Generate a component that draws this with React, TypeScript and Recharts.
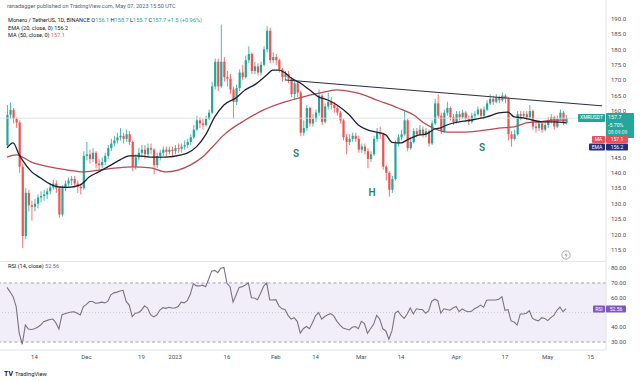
import React from 'react';
import {
  ComposedChart,
  Bar,
  Line,
  XAxis,
  YAxis,
  ReferenceLine,
  ReferenceArea,
  ReferenceDot,
} from 'recharts';

// ---------- data (daily XMR/USDT candles, Nov 5 2022 -> May 7 2023) ----------
// Crypto daily candles open at the previous close, so opens follow the closes.
const firstOpen = 149.0;

const closes = [
  158.8, 160.4, 157.5, 156.3, 142, 119.5, 133.5, 129.5, 129, 130,
  132, 132.5, 133, 134, 135.3, 136.5, 135, 126.5, 135, 136.5,
  137.5, 138, 136.5, 135.5, 135, 145.5, 146, 144.5, 146.5, 143,
  142.5, 143.5, 145.5, 148, 149.5, 150.5, 151.5, 152, 151, 152.5,
  150, 142, 145, 146.5, 147.5, 146, 148, 147.5, 142.5, 145.5,
  146.5, 147.5, 146.8, 147.5, 147, 148, 147.8, 148.5, 149, 150,
  151.5, 154, 157, 156, 155.5, 157.5, 159.5, 168, 176, 168,
  176, 171, 170.5, 167, 163, 167.5, 172.5, 171, 176.5, 178.5,
  173, 174.5, 172.5, 175, 180, 186, 176.5, 177.5, 176.5, 173.5,
  171, 172, 170.5, 165.5, 169, 166, 153, 154.5, 161, 156,
  157.5, 159.5, 165, 156.5, 161.5, 163, 162, 161, 159.5, 157,
  151.5, 150, 151, 152, 151, 147.5, 148.5, 147, 144.5, 146,
  151, 153, 152.5, 142, 140, 134.5, 138, 149.5, 151.5, 152.5,
  157, 148, 150, 153.5, 152.5, 154, 152.5, 153.5, 149.5, 156,
  162.5, 158.5, 153.5, 159.5, 161, 158, 156.5, 159, 158, 159.5,
  157.5, 156.5, 158.5, 159, 160.5, 158.5, 160.5, 162.5, 164, 163,
  164.5, 163.5, 165, 164, 152.5, 151, 152.5, 159, 158.5, 159,
  158, 160, 155, 154.5, 156, 154, 155.5, 157, 158, 155,
  157.5, 159.5, 156.1, 157.7,
];

const highs = [
  162, 162.8, 161, 158, 157, 143, 135, 134.5, 131, 131.5,
  133, 134, 134.5, 135, 136.5, 137.8, 137.5, 135.5, 136, 137.5,
  138.5, 139, 139, 137.5, 136.5, 147, 150, 147.5, 148, 147,
  144.5, 145, 146.5, 149, 151, 152, 153, 154.5, 153, 154,
  153.5, 150.5, 146, 148, 149, 149, 149.5, 149.5, 148, 146.5,
  147.5, 148.5, 148.5, 148.5, 148.5, 149, 149.5, 149.5, 150.5, 151,
  152.5, 155.5, 158.5, 158, 157.5, 158.5, 160.5, 169.5, 177, 177,
  188, 177.5, 173, 172, 168, 168.5, 173.5, 175, 178, 181,
  179, 176, 175.5, 176, 181, 187.5, 187, 179, 178.5, 177,
  174, 173, 173, 171, 170, 169.5, 166.5, 157, 162, 161.5,
  159, 160.5, 167, 165.5, 162.5, 166, 164.5, 163, 162, 160,
  157.5, 152.5, 152.5, 153, 153, 152, 149.5, 149.5, 148, 147,
  152, 154.5, 155, 153, 142.5, 140.5, 139, 150.5, 152.5, 154,
  160, 157.5, 151.5, 154.5, 154.5, 155.5, 155, 154.5, 154, 157,
  164, 165.5, 159.5, 160.5, 163, 161.5, 159, 160, 160, 160.5,
  160, 158.5, 159.5, 160, 161.5, 161, 161.5, 163.5, 165.5, 165,
  165.5, 165, 166, 165.5, 164.5, 153.5, 154, 160, 160, 160,
  160, 162, 160.5, 156.5, 157, 156.5, 156.5, 158, 159, 158.5,
  158.5, 160.5, 160, 158.7,
];

const lows = [
  148.5, 157.5, 156, 154.5, 140, 115.6, 118.5, 127.5, 124.5, 127.5,
  128.5, 130.5, 131, 131.5, 133, 134.5, 133.5, 125.5, 125.8, 134,
  135.5, 136, 135.5, 133.5, 133, 134.5, 144, 143, 143.5, 141.5,
  141, 141.5, 142.5, 144.5, 147, 148.5, 149.5, 150.5, 149.5, 150,
  149, 140.5, 141, 144, 145, 144.5, 145, 146, 139.5, 141.5,
  144, 145.5, 145, 146, 145.5, 146, 146.5, 146.5, 147.5, 148,
  149, 151, 153.5, 154.5, 154, 155, 157, 159, 167, 166.5,
  167.5, 169.5, 168, 165.5, 157.5, 162, 166.5, 170, 170.5, 175.5,
  172, 172, 171.5, 171.5, 174.5, 179, 175.5, 175.5, 175, 172.5,
  169.5, 170, 169, 164.5, 164, 164.5, 152, 152, 153.5, 155,
  155, 156.5, 158.5, 155.5, 156, 160.5, 160.5, 159.5, 158.5, 156,
  150.5, 146, 149, 150, 150, 146.5, 146.5, 146, 141.5, 143.5,
  145.5, 150, 151, 141, 137.5, 132.3, 133.5, 137.5, 148.5, 150.5,
  152, 147, 147.5, 149.5, 151.5, 152, 151.5, 151.5, 148.5, 149,
  155.5, 157.5, 152.5, 153, 158.5, 157, 155.5, 156, 157, 157.5,
  156.5, 155.5, 156, 157.5, 158.5, 157.5, 158, 160, 162, 162,
  162.5, 162.5, 163, 162.5, 150.5, 148.5, 150.5, 152, 157, 157.5,
  157, 157.5, 154, 153, 153.5, 153, 153.5, 154.5, 156, 154,
  154.5, 157, 155.5, 155.7,
];

const rsiValues = [
  67, 64, 60.7, 54, 36, 28.5, 41.5, 38.8, 38.5, 39,
  40, 41.5, 43.8, 44.5, 45.3, 45.6, 43, 38.8, 48.5, 49.2,
  49.8, 50.3, 50.5, 49.5, 48.3, 54, 55.5, 57.4, 57.4, 56.3,
  56.5, 57, 56.5, 57.5, 62, 63.3, 63.8, 64.5, 65, 57.5,
  55, 47.2, 49.5, 49.8, 51.5, 54.5, 53, 48.5, 47, 48.3,
  51.5, 53.3, 52.8, 53.5, 53, 53, 54, 57, 56.5, 58,
  62.3, 69.5, 68, 68, 68.5, 67.5, 72.5, 78, 78.5, 77,
  80, 80.5, 69.8, 67.5, 57, 62, 67, 67.5, 68.6, 70,
  60, 59.8, 58.7, 63, 67.8, 70, 58.5, 58.5, 58.7, 54.5,
  52.5, 52, 48, 45.5, 46.5, 44, 36, 39, 40.5, 39,
  43, 47.7, 50, 45.5, 47.3, 48.5, 49.2, 47.5, 44, 41.5,
  39.5, 38.8, 38.2, 40, 40.5, 39, 44, 42.5, 36, 39,
  42, 48, 45.5, 39, 37.5, 32, 37.5, 49.4, 51, 48,
  46, 49, 53, 49, 52.5, 52, 52, 49.5, 51, 57.5,
  59, 58, 49.5, 52.5, 52, 51.5, 53, 54, 50.5, 52.4,
  51.2, 50.5, 50.8, 52.5, 53.6, 55, 53.6, 58.3, 58.5, 58.5,
  58.5, 59, 60.7, 51.5, 52, 44.3, 43.5, 41.5, 49, 49,
  49.5, 51.2, 46, 45, 44.3, 46.5, 46, 44.5, 46.5, 48,
  51.5, 53.6, 50.5, 52.56,
];

// EMA(20) and MA(50) at candle indexes
const emaPoints: [number, number][] = [
  [0, 148.1], [2, 149.7], [4, 145.8], [5, 144.2], [8, 140.4], [11, 138.3], [14, 136.4],
  [17, 135.4], [20, 135.3], [24, 136.1], [27, 138.7], [30, 140.3], [34, 142.5], [37, 144.2],
  [40, 145.5], [43, 145.5], [47, 145.1], [52, 145.1], [57, 145.8], [59, 146.4], [62, 148.4],
  [65, 152.3], [68, 158.1], [71, 162], [75, 164.3], [78, 166.9], [81, 168.5], [85, 171.7],
  [87, 173.3], [89, 173.3], [91, 172.4], [93, 170.7], [96, 169.1], [99, 166.9], [102, 164.6],
  [105, 163.6], [108, 162], [112, 158.8], [115, 155.5], [118, 153.9], [121, 153.2], [124, 152.3],
  [126, 149.9], [129, 149.7], [131, 150.7], [133, 151.6], [135, 152.3], [137, 152.5], [140, 154.2],
  [142, 154.6], [144, 155.5], [148, 156.5], [152, 157.1], [157, 158.1], [161, 159.4], [164, 159.7],
  [166, 158.1], [169, 157.8], [172, 157.1], [175, 156.5], [179, 156.5], [183, 156.2],
];

const smaPoints: [number, number][] = [
  [0, 145.1], [3, 145.8], [8, 143.5], [14, 141.9], [20, 140.9], [25, 140.3], [30, 140.9],
  [36, 141.6], [41, 141.9], [47, 141.6], [52, 140.3], [56, 140.9], [60, 142.5], [64, 145.1],
  [67, 148.1], [71, 152.3], [78, 157.1], [84, 160.4], [91, 163], [97, 164.6], [104, 166.2],
  [108, 166.9], [113, 166.2], [117, 165.2], [121, 163.6], [128, 161], [133, 158.8], [137, 155.8],
  [141, 153.9], [144, 153.2], [150, 153.2], [157, 153.9], [161, 154.5], [166, 154.9], [170, 156.2],
  [174, 156.5], [179, 157.1], [183, 157.1],
];

// 150.0 and 155.0 are hidden behind the price badges in the reference
const priceTicks = [115, 120, 125, 130, 135, 140, 145, 160, 165, 170, 175, 180, 185, 190];
const rsiTicks = [30, 40, 60, 70, 80];
const timeTicks = [9, 26, 44, 55, 72, 88, 101, 116, 129, 147, 163, 177, 191];
const timeLabels = ['14', 'Dec', '19', '2023', '16', 'Feb', '14', 'Mar', '14', 'Apr', '17', 'May', '15'];

const lastPrice = 157.7;
const neckline = [
  { x: 91, y: 170.1 },
  { x: 194.8, y: 161.7 },
];
const patternLabels = [
  { x: 94.6, y: 146.4, text: 'S' },
  { x: 119.5, y: 133.5, text: 'H' },
  { x: 155.5, y: 148.1, text: 'S' },
];

// ---------- styling ----------
const UP = '#26a69a';
const DOWN = '#ef5350';
const FONT = 'Roboto, "Noto Sans", sans-serif';
const X_DOMAIN: [number, number] = [-2.29, 196.07];

const emaMap = new Map(emaPoints);
const smaMap = new Map(smaPoints);

const rows = closes.map((c, i) => ({
  i,
  open: i === 0 ? firstOpen : closes[i - 1],
  close: c,
  high: highs[i],
  low: lows[i],
  range: [lows[i], highs[i]],
  rsi: rsiValues[i],
  ema: emaMap.has(i) ? emaMap.get(i) : null,
  sma: smaMap.has(i) ? smaMap.get(i) : null,
}));

const Candle = (props: any) => {
  const { x, y, width, height, payload } = props;
  if (!payload || x == null || y == null) return null;
  const { open, close, high, low } = payload;
  const top = Math.min(y, y + height);
  const bot = Math.max(y, y + height);
  const ppu = high !== low ? (bot - top) / (high - low) : 0;
  const yOf = (v: number) => top + (high - v) * ppu;
  const cx = x + width / 2;
  const color = close >= open ? UP : DOWN;
  const bt = yOf(Math.max(open, close));
  const bb = yOf(Math.min(open, close));
  return (
    <g>
      <line x1={cx} x2={cx} y1={top} y2={bot} stroke={color} strokeWidth={0.8} />
      <rect x={cx - 1.1} y={bt} width={2.2} height={Math.max(0.8, bb - bt)} fill={color} />
    </g>
  );
};

const axisTick = { fontSize: 6, fill: '#4a4d57', fontFamily: FONT };

const Badge = ({ x, y, w, h, fill, lines }: { x: number; y: number; w: number; h: number; fill: string; lines: string[] }) => (
  <g>
    <rect x={x} y={y} width={w} height={h} rx={1} fill={fill} />
    {lines.map((t, k) => (
      <text key={k} x={x + w / 2} y={y + 5.2 + k * 7.5} fontSize={5} fill="#fff" textAnchor="middle" fontFamily={FONT}>
        {t}
      </text>
    ))}
  </g>
);

export default function App() {
  return (
    <div style={{ position: 'fixed', left: 0, top: 0, width: 640, height: 381, background: '#fff', overflow: 'hidden' }}>
      <div style={{ position: 'absolute', left: 0, top: 0 }}>
        <ComposedChart width={640} height={258} data={rows} margin={{ top: 0, right: 0, bottom: 0, left: 0 }}>
          <XAxis type="number" dataKey="i" domain={X_DOMAIN} hide allowDataOverflow />
          <YAxis
            orientation="right"
            type="number"
            domain={[112.4, 196]}
            ticks={priceTicks}
            interval={0}
            width={34}
            tickSize={0}
            tickMargin={5}
            tickLine={false}
            axisLine={{ stroke: '#e0e3eb' }}
            tick={axisTick}
            tickFormatter={(v: number) => v.toFixed(1)}
            allowDataOverflow
          />
          <ReferenceLine y={lastPrice} stroke="#dcdcdc" strokeWidth={0.8} />
          <Bar dataKey="range" barSize={2} shape={(p: any) => <Candle {...p} />} isAnimationActive={false} />
          <Line dataKey="sma" type="monotone" stroke="#b84a55" strokeWidth={1.3} dot={false} activeDot={false} connectNulls isAnimationActive={false} />
          <Line dataKey="ema" type="monotone" stroke="#1c2033" strokeWidth={1.3} dot={false} activeDot={false} connectNulls isAnimationActive={false} />
          <ReferenceLine segment={neckline} stroke="#2a2e45" strokeWidth={1} />
          {patternLabels.map((l, k) => (
            <ReferenceDot
              key={k}
              x={l.x}
              y={l.y}
              r={0}
              fill="none"
              stroke="none"
              label={{ value: l.text, position: 'center', fill: '#2e7d6b', fontSize: 10, fontWeight: 600, fontFamily: FONT }}
            />
          ))}
        </ComposedChart>
      </div>
      <div style={{ position: 'absolute', left: 0, top: 258 }}>
        <ComposedChart width={640} height={110} data={rows} margin={{ top: 0, right: 0, bottom: 0, left: 0 }}>
          <XAxis
            type="number"
            dataKey="i"
            domain={X_DOMAIN}
            ticks={timeTicks}
            interval={0}
            height={18}
            tickSize={0}
            tickMargin={5}
            tickLine={false}
            axisLine={{ stroke: '#e0e3eb' }}
            tick={axisTick}
            tickFormatter={(v: number) => timeLabels[timeTicks.indexOf(v)] ?? ''}
            allowDataOverflow
          />
          <YAxis
            orientation="right"
            type="number"
            domain={[24.6, 86.9]}
            ticks={rsiTicks}
            interval={0}
            width={34}
            tickSize={0}
            tickMargin={5}
            tickLine={false}
            axisLine={{ stroke: '#e0e3eb' }}
            tick={axisTick}
            tickFormatter={(v: number) => v.toFixed(2)}
            allowDataOverflow
          />
          <ReferenceArea y1={30} y2={70} fill="#7e57c2" fillOpacity={0.1} stroke="none" />
          <ReferenceLine y={70} stroke="#a3a6ae" strokeDasharray="3 2.5" />
          <ReferenceLine y={50} stroke="#c9cbd1" strokeDasharray="1 2" />
          <ReferenceLine y={30} stroke="#a3a6ae" strokeDasharray="3 2.5" />
          <Line dataKey="rsi" type="linear" stroke="#7b7186" strokeWidth={1.1} dot={false} activeDot={false} isAnimationActive={false} />
        </ComposedChart>
      </div>
      <svg width={640} height={381} style={{ position: 'absolute', left: 0, top: 0, pointerEvents: 'none' }}>
        <line x1={0} x2={606} y1={261.5} y2={261.5} stroke="#e6e6ec" strokeWidth={1} />
        <text x={7} y={8} fontSize={5.6} fill="#5d606b" fontFamily={FONT}>
          ranadagger published on TradingView.com, May 07, 2023 15:50 UTC
        </text>
        <text x={8} y={21.5} fontSize={5.6} fill="#131722" fontFamily={FONT}>
          Monero / TetherUS, 1D, BINANCE{'  '}
          <tspan>O</tspan><tspan fill={UP}>156.1 </tspan>
          <tspan>H</tspan><tspan fill={UP}>158.7 </tspan>
          <tspan>L</tspan><tspan fill={UP}>155.7 </tspan>
          <tspan>C</tspan><tspan fill={UP}>157.7 +1.5 (+0.96%)</tspan>
        </text>
        <text x={8} y={29.5} fontSize={5.6} fill="#131722" fontFamily={FONT}>
          EMA (20, close, 0) <tspan fill="#1c2033">156.2</tspan>
        </text>
        <text x={8} y={36.5} fontSize={5.6} fill="#131722" fontFamily={FONT}>
          MA (50, close, 0) <tspan fill="#e0606d">157.1</tspan>
        </text>
        <text x={8} y={268} fontSize={5.6} fill="#131722" fontFamily={FONT}>
          RSI (14, close) <tspan fill="#7e57c2">52.56</tspan>
        </text>

        <Badge x={578} y={114} w={27} h={8} fill={UP} lines={['XMRUSDT']} />
        <rect x={606} y={113} width={28} height={25} rx={1} fill={UP} />
        <text x={608} y={119} fontSize={5.4} fill="#fff" fontFamily={FONT}>157.7</text>
        <text x={608} y={126.5} fontSize={5.2} fill="#fff" fontFamily={FONT}>-5.70%</text>
        <text x={608} y={134} fontSize={5} fill="#d8f0ec" fontFamily={FONT}>08:09:09</text>
        <Badge x={592} y={136} w={13} h={7} fill="#e8505f" lines={['MA']} />
        <Badge x={606} y={136} w={22} h={7} fill="#e8505f" lines={['157.1']} />
        <Badge x={589} y={143.5} w={16} h={7} fill="#232c7d" lines={['EMA']} />
        <Badge x={606} y={143.5} w={22} h={7} fill="#232c7d" lines={['156.2']} />
        <Badge x={593} y={305.5} w={12} h={7} fill="#7e57c2" lines={['RSI']} />
        <Badge x={606} y={305.5} w={20} h={7} fill="#7e57c2" lines={['52.56']} />

        <circle cx={566} cy={255} r={4.2} fill="#fff" stroke="#9a8fb8" strokeWidth={0.8} />
        <path d="M566.8 251.8 L564.6 255.4 L566.2 255.4 L565.4 258.2 L567.6 254.5 L566 254.5 Z" fill="#9a8fb8" />

        <text x={4} y={376} fontSize={7} fontWeight={700} fill="#131722" fontFamily={FONT}>TV</text>
        <text x={15} y={376} fontSize={5.8} fill="#131722" fontFamily={FONT}>TradingView</text>
      </svg>
    </div>
  );
}
